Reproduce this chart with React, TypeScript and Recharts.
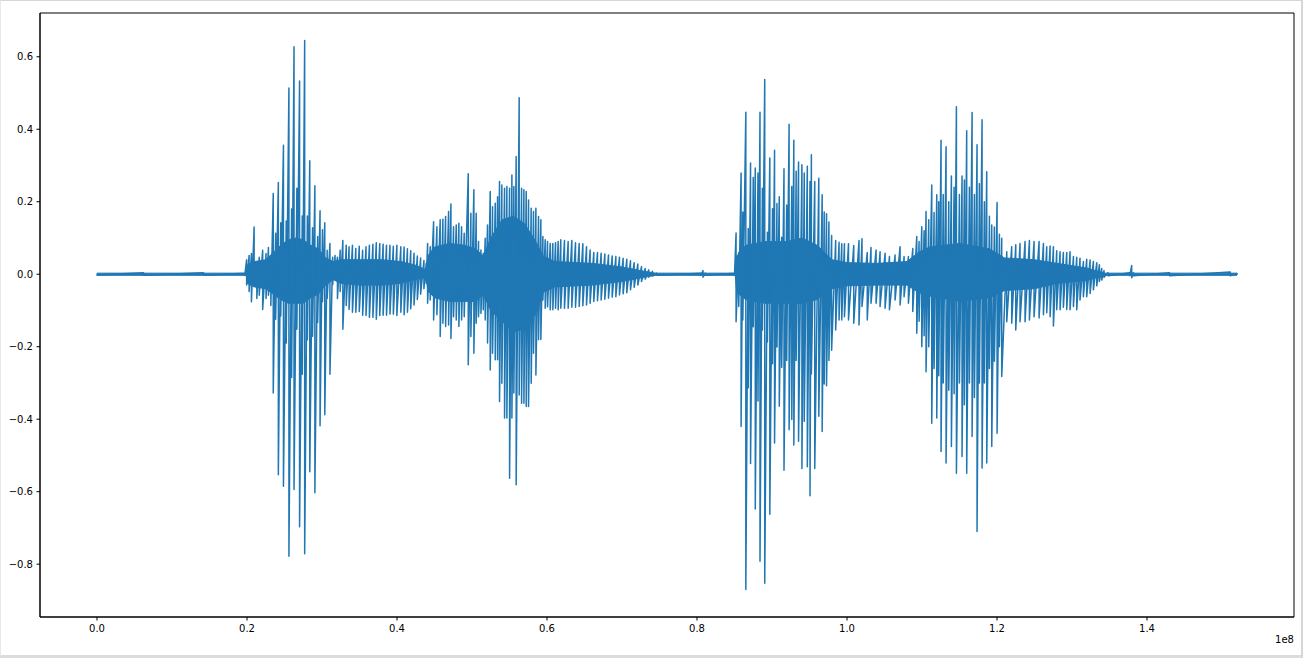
import { ComposedChart, Line, Area, XAxis, YAxis, ReferenceArea } from "recharts";

// one pulse of the waveform: [time (x 1e6), max, min]
type Pulse = [number, number, number];

const xTicks = [0, 20, 40, 60, 80, 100, 120, 140];
const yTicks = [-0.8, -0.6, -0.4, -0.2, 0, 0.2, 0.4, 0.6];
const xDomain = [-7.6, 159.6];
const yDomain = [-0.9458, 0.7208];

const flatOne: Pulse[] = [
  [0, 0.002, -0.002], [6.2, 0.004, -0.003], [14.2, 0.004, -0.003], [19.7, 0.003, -0.003],
];

const burstOne: Pulse[] = [
  [19.95, 0.04, -0.03], [20.28, 0.052, -0.048], [20.59, 0.057, -0.076], [20.95, 0.13, -0.034],
  [21.31, 0.028, -0.067], [21.63, 0.047, -0.058], [22.09, 0.066, -0.097], [22.54, 0.057, -0.067],
  [22.86, 0.074, -0.058], [23.18, 0.047, -0.086], [23.5, 0.223, -0.328], [23.82, 0.113, -0.124],
  [24.18, 0.253, -0.553], [24.5, 0.142, -0.115], [24.86, 0.356, -0.585], [25.23, 0.147, -0.19],
  [25.59, 0.514, -0.778], [25.95, 0.18, -0.285], [26.27, 0.628, -0.594], [26.65, 0.237, -0.152],
  [27.01, 0.533, -0.697], [27.37, 0.161, -0.276], [27.69, 0.645, -0.771], [28.05, 0.161, -0.181],
  [28.37, 0.313, -0.545], [28.74, 0.128, -0.171], [29.05, 0.244, -0.603], [29.42, 0.104, -0.133],
  [29.74, 0.175, -0.418], [30.06, 0.123, -0.076], [30.37, 0.142, -0.388], [30.69, 0.066, -0.067],
  [31.06, 0.085, -0.276], [31.42, 0.047, -0.029], [31.74, 0.052, -0.01], [32.06, 0.047, -0.067],
  [32.42, 0.066, -0.048], [32.78, 0.093, -0.152], [33.23, 0.08, -0.086], [33.61, 0.076, -0.097],
  [34.06, 0.08, -0.105], [34.51, 0.071, -0.105], [34.97, 0.077, -0.103], [35.42, 0.066, -0.113],
  [35.87, 0.076, -0.114], [36.32, 0.08, -0.119], [36.79, 0.083, -0.119], [37.24, 0.087, -0.124],
  [37.7, 0.085, -0.114], [38.15, 0.083, -0.113], [38.6, 0.08, -0.113], [39.06, 0.08, -0.11],
  [39.51, 0.077, -0.11], [39.98, 0.08, -0.114], [40.51, 0.076, -0.105], [40.95, 0.075, -0.112],
  [41.39, 0.07, -0.105], [41.83, 0.065, -0.095], [42.27, 0.058, -0.085], [42.71, 0.05, -0.07],
  [43.15, 0.045, -0.055], [43.59, 0.038, -0.04], [43.9, 0.03, -0.025],
];

const burstTwo: Pulse[] = [
  [44.08, 0.085, -0.08], [44.43, 0.076, -0.071], [44.88, 0.145, -0.126], [45.32, 0.131, -0.112],
  [45.76, 0.15, -0.172], [46.12, 0.152, -0.135], [46.48, 0.159, -0.144], [46.88, 0.173, -0.14],
  [47.19, 0.194, -0.177], [47.54, 0.131, -0.117], [47.9, 0.136, -0.126], [48.25, 0.141, -0.144],
  [48.61, 0.131, -0.126], [48.96, 0.113, -0.117], [49.5, 0.277, -0.25], [49.85, 0.168, -0.172],
  [50.25, 0.233, -0.218], [50.56, 0.168, -0.135], [50.87, 0.09, -0.117], [51.19, 0.067, -0.108],
  [51.5, 0.058, -0.098], [51.76, 0.099, -0.126], [52.07, 0.136, -0.19], [52.43, 0.228, -0.264],
  [52.74, 0.186, -0.218], [53.1, 0.196, -0.236], [53.41, 0.214, -0.236], [53.67, 0.256, -0.351],
  [53.98, 0.246, -0.301], [54.34, 0.237, -0.397], [54.65, 0.242, -0.397], [55.01, 0.237, -0.563],
  [55.32, 0.274, -0.397], [55.58, 0.242, -0.328], [55.89, 0.325, -0.581], [56.29, 0.487, -0.333],
  [56.61, 0.237, -0.356], [56.92, 0.233, -0.356], [57.23, 0.228, -0.365], [57.54, 0.205, -0.365],
  [57.89, 0.182, -0.301], [58.2, 0.173, -0.218], [58.52, 0.182, -0.278], [58.87, 0.159, -0.181],
  [59.18, 0.15, -0.18], [59.45, 0.104, -0.071], [59.76, 0.095, -0.094], [60.07, 0.09, -0.09],
  [60.43, 0.085, -0.098], [60.78, 0.085, -0.098], [61.14, 0.087, -0.094], [61.49, 0.09, -0.098],
];

const decayTwo: Pulse[] = [
  [61.84, 0.095, -0.094], [62.33, 0.093, -0.094], [62.82, 0.09, -0.094], [63.31, 0.093, -0.091],
  [63.8, 0.087, -0.091], [64.29, 0.085, -0.089], [64.78, 0.084, -0.087], [65.27, 0.076, -0.085],
  [65.75, 0.067, -0.08], [66.24, 0.06, -0.075], [66.73, 0.06, -0.073], [67.22, 0.058, -0.071],
  [67.71, 0.056, -0.069], [68.2, 0.053, -0.066], [68.69, 0.05, -0.063], [69.18, 0.049, -0.062],
  [69.66, 0.047, -0.057], [70.15, 0.044, -0.054], [70.64, 0.041, -0.051], [71.13, 0.037, -0.043],
  [71.62, 0.032, -0.036], [72.11, 0.028, -0.03], [72.6, 0.021, -0.02], [73.09, 0.016, -0.014],
  [73.57, 0.012, -0.008], [74.06, 0.008, -0.005],
];

const flatTwo: Pulse[] = [
  [74.6, 0.003, -0.003], [80.5, 0.003, -0.003], [80.8, 0.01, -0.008], [81.1, 0.003, -0.003],
  [85.0, 0.003, -0.003],
];

const burstThree: Pulse[] = [
  [85.21, 0.114, -0.131], [85.57, 0.06, -0.089], [85.88, 0.279, -0.42], [86.11, 0.172, -0.126],
  [86.51, 0.447, -0.87], [86.83, 0.126, -0.313], [87.14, 0.307, -0.522], [87.5, 0.267, -0.145],
  [87.77, 0.293, -0.648], [88.13, 0.279, -0.35], [88.4, 0.447, -0.792], [88.72, 0.237, -0.154],
  [89.03, 0.537, -0.853], [89.39, 0.116, -0.187], [89.71, 0.321, -0.662], [90.07, 0.181, -0.247],
  [90.34, 0.342, -0.466], [90.66, 0.195, -0.201], [90.97, 0.214, -0.364], [91.29, 0.102, -0.257],
  [91.6, 0.291, -0.541], [91.96, 0.191, -0.238], [92.28, 0.414, -0.429], [92.64, 0.242, -0.401],
  [92.91, 0.37, -0.471], [93.22, 0.284, -0.238], [93.54, 0.31, -0.461], [93.99, 0.302, -0.536],
  [94.3, 0.279, -0.406], [94.71, 0.298, -0.531], [95.07, 0.256, -0.611], [95.25, 0.33, -0.275],
  [95.7, 0.256, -0.536], [96.24, 0.265, -0.392], [96.69, 0.219, -0.434], [96.96, 0.172, -0.303],
  [97.27, 0.167, -0.308], [97.59, 0.144, -0.238], [97.95, 0.107, -0.21], [98.49, 0.093, -0.154],
  [98.94, 0.088, -0.126], [99.3, 0.084, -0.126], [99.66, 0.084, -0.117], [100.2, 0.084, -0.126],
  [100.9, 0.079, -0.135], [101.6, 0.093, -0.14], [102.0, 0.098, -0.089], [102.7, 0.06, -0.126],
  [103.2, 0.074, -0.08],
];

const burstFour: Pulse[] = [
  [103.88, 0.067, -0.08], [104.41, 0.062, -0.089], [105.08, 0.058, -0.094], [105.66, 0.049, -0.098],
  [106.41, 0.053, -0.071], [107.08, 0.076, -0.085], [107.61, 0.049, -0.062], [108.19, 0.049, -0.08],
  [108.77, 0.071, -0.103], [109.3, 0.104, -0.163], [109.61, 0.09, -0.13], [109.97, 0.131, -0.2],
  [110.28, 0.12, -0.17], [110.54, 0.173, -0.269], [110.9, 0.15, -0.2], [111.3, 0.246, -0.411],
  [111.61, 0.17, -0.26], [111.97, 0.219, -0.397], [112.23, 0.2, -0.28], [112.54, 0.37, -0.489],
  [112.83, 0.22, -0.3], [113.21, 0.352, -0.521], [113.57, 0.2, -0.32], [113.92, 0.271, -0.475],
  [114.28, 0.24, -0.33], [114.59, 0.462, -0.549], [114.99, 0.22, -0.3], [115.34, 0.271, -0.503],
  [115.65, 0.26, -0.36], [115.96, 0.396, -0.549], [116.32, 0.24, -0.3], [116.68, 0.446, -0.448],
  [116.99, 0.22, -0.34], [117.34, 0.357, -0.71], [117.65, 0.25, -0.3], [118.01, 0.426, -0.535],
  [118.32, 0.2, -0.3], [118.63, 0.283, -0.521], [118.99, 0.16, -0.26], [119.3, 0.136, -0.475],
  [119.65, 0.13, -0.24], [120.01, 0.198, -0.439], [120.32, 0.11, -0.2], [120.63, 0.099, -0.282],
  [121.3, 0.062, -0.131], [121.96, 0.076, -0.135], [122.5, 0.081, -0.154], [123.07, 0.085, -0.131],
  [123.74, 0.09, -0.131], [124.32, 0.093, -0.126], [124.94, 0.09, -0.117], [125.61, 0.09, -0.121],
];

const decayFour: Pulse[] = [
  [126.19, 0.085, -0.112], [126.63, 0.076, -0.106], [127.08, 0.078, -0.117], [127.52, 0.076, -0.143],
  [127.96, 0.065, -0.098], [128.41, 0.062, -0.098], [128.85, 0.06, -0.091], [129.3, 0.06, -0.097],
  [129.74, 0.062, -0.098], [130.19, 0.049, -0.089], [130.63, 0.047, -0.098], [131.07, 0.044, -0.071],
  [131.52, 0.035, -0.062], [131.96, 0.041, -0.062], [132.41, 0.039, -0.053], [132.85, 0.035, -0.043],
  [133.3, 0.032, -0.032], [133.65, 0.026, -0.02], [133.96, 0.016, -0.016], [134.27, 0.01, -0.008],
];

const flatThree: Pulse[] = [
  [134.8, 0.004, -0.004], [137.7, 0.004, -0.004], [137.96, 0.024, -0.01], [138.2, 0.004, -0.004],
  [143, 0.004, -0.004], [151.1, 0.006, -0.004], [152, 0.002, -0.002],
];

// dense band around zero where samples fill solid
const coreTime = [0, 19.9, 20, 21, 22.5, 23.5, 24.5, 25.5, 26.5, 27.5, 28.5, 29.5, 30.5, 31.5, 32.5, 35, 38, 40.5, 42.5, 43.9, 44.1, 45, 47, 49, 50.5, 51.5, 52.5, 54, 55.5, 57, 58.5, 59.5, 61, 66, 70, 73, 74.5, 85.1, 85.3, 86.5, 89, 92, 94, 96, 98, 100, 104, 108, 109.5, 111, 115, 119, 121, 125, 128, 132, 134.3, 152];
const coreHigh = [0.003, 0.003, 0.025, 0.035, 0.04, 0.06, 0.08, 0.095, 0.1, 0.095, 0.08, 0.07, 0.045, 0.035, 0.04, 0.04, 0.04, 0.035, 0.025, 0.012, 0.05, 0.075, 0.085, 0.08, 0.07, 0.05, 0.1, 0.15, 0.16, 0.14, 0.09, 0.05, 0.035, 0.03, 0.02, 0.008, 0.003, 0.003, 0.05, 0.08, 0.09, 0.09, 0.1, 0.08, 0.04, 0.032, 0.03, 0.035, 0.06, 0.075, 0.085, 0.07, 0.045, 0.04, 0.03, 0.017, 0.003, 0.003];
const coreLow = [-0.003, -0.003, -0.025, -0.035, -0.04, -0.055, -0.07, -0.08, -0.08, -0.08, -0.065, -0.055, -0.03, -0.015, -0.025, -0.03, -0.03, -0.025, -0.015, -0.008, -0.045, -0.065, -0.075, -0.075, -0.075, -0.055, -0.1, -0.13, -0.16, -0.15, -0.11, -0.05, -0.035, -0.03, -0.02, -0.008, -0.003, -0.003, -0.05, -0.07, -0.08, -0.08, -0.08, -0.07, -0.04, -0.032, -0.03, -0.03, -0.05, -0.06, -0.075, -0.065, -0.045, -0.04, -0.025, -0.017, -0.003, -0.003];

const segments = [flatOne, burstOne, burstTwo, decayTwo, flatTwo, burstThree, burstFour, decayFour, flatThree];

const waveRows = segments.flat().flatMap(([t, hi, lo]) => [
  { t, v: hi },
  { t, v: lo },
]);
const coreRows = coreTime.map((t, i) => ({ t, band: [coreLow[i], coreHigh[i]] }));

const blue = "#1f77b4";
const font = "'DejaVu Sans', sans-serif";
const tickStyle = { fill: "#000", fontSize: 10, fontFamily: font };

export default function App() {
  return (
    <div style={{ position: "absolute", left: 0, top: 0, width: 1303, height: 658, background: "#fff" }}>
      <ComposedChart width={1303} height={658} margin={{ top: 13, right: 9, bottom: 0, left: 0 }}>
        <XAxis
          type="number"
          dataKey="t"
          domain={xDomain}
          ticks={xTicks}
          allowDataOverflow
          height={41}
          tickSize={3.5}
          tickMargin={4}
          tick={tickStyle}
          tickLine={{ stroke: "#000" }}
          axisLine={{ stroke: "#000" }}
          tickFormatter={(v: number) => (v / 100).toFixed(1)}
        />
        <YAxis
          type="number"
          domain={yDomain}
          ticks={yTicks}
          allowDataOverflow
          width={40}
          tickSize={3.5}
          tickMargin={3.5}
          tick={tickStyle}
          tickLine={{ stroke: "#000" }}
          axisLine={{ stroke: "#000" }}
          tickFormatter={(v: number) => v.toFixed(1).replace("-", "\u2212")}
        />
        <Area
          data={coreRows}
          dataKey="band"
          type="linear"
          stroke={blue}
          strokeWidth={1}
          fill={blue}
          fillOpacity={1}
          isAnimationActive={false}
        />
        <Line
          data={waveRows}
          dataKey="v"
          type="linear"
          stroke={blue}
          strokeWidth={1.5}
          strokeLinejoin="round"
          dot={false}
          isAnimationActive={false}
        />
        <ReferenceArea
          x1={xDomain[0]}
          x2={xDomain[1]}
          y1={yDomain[0]}
          y2={yDomain[1]}
          fill="none"
          stroke="#000"
          strokeWidth={1}
          ifOverflow="visible"
        />
      </ComposedChart>
      <span
        style={{
          position: "absolute",
          right: 9,
          top: 634,
          fontFamily: font,
          fontSize: 10,
          lineHeight: "12px",
          color: "#000",
        }}
      >
        1e8
      </span>
      <div
        style={{
          position: "absolute",
          left: 0,
          top: 0,
          width: 1303,
          height: 658,
          boxSizing: "border-box",
          borderTop: "1px solid #d6d6d6",
          borderLeft: "1px solid #e8e8e8",
          borderRight: "2px solid #d6d6d6",
          borderBottom: "3px solid #dcdcdc",
          pointerEvents: "none",
        }}
      />
    </div>
  );
}
